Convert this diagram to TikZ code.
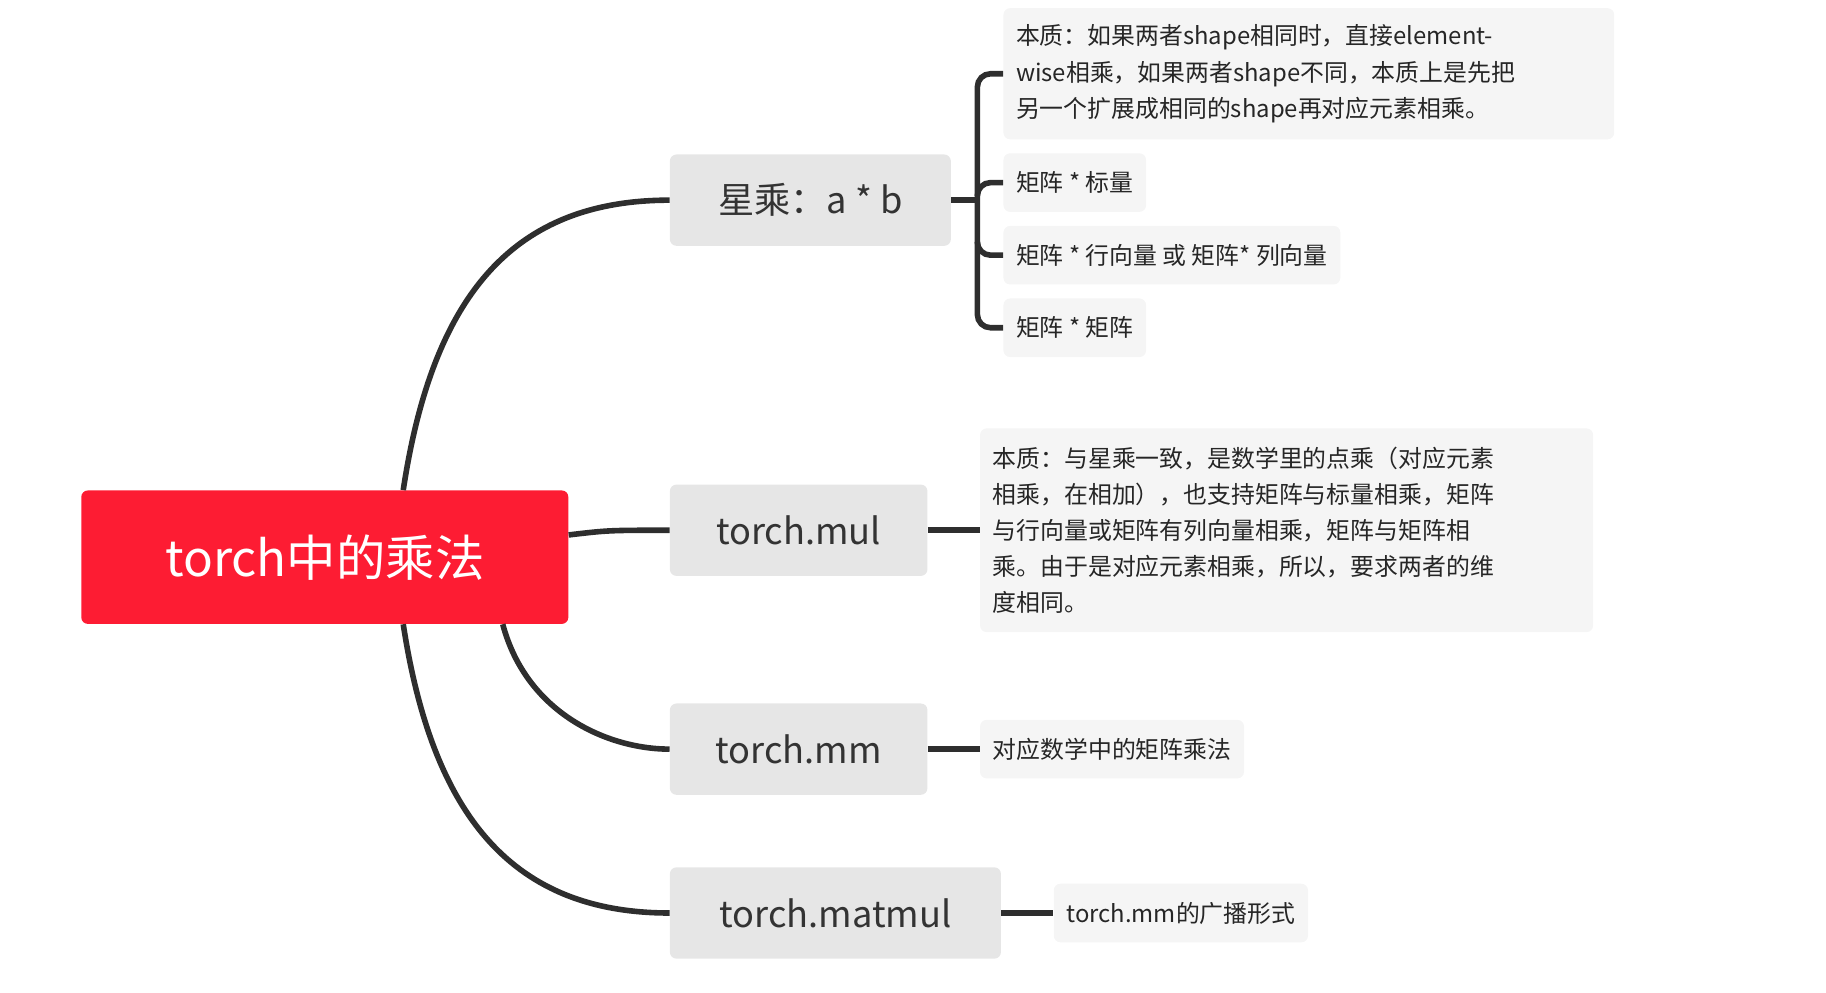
\documentclass[tikz,border=0pt]{standalone}
\usepackage{fontspec}
\usetikzlibrary{calc}
\setmainfont{Noto Sans CJK SC}
\definecolor{rootred}{HTML}{FD1C33}
\definecolor{topicgray}{HTML}{E6E6E6}
\definecolor{leafgray}{HTML}{F5F5F5}
\definecolor{linedark}{HTML}{2E2E2E}
\tikzset{
  rootbox/.style={fill=rootred, rounded corners=4pt, text=white, font=\fontsize{30}{34}\selectfont, minimum width=10.4cm, minimum height=2.85cm},
  topicbox/.style={fill=topicgray, rounded corners=4pt, text=black!80, font=\fontsize{22}{26}\selectfont, minimum height=1.95cm, anchor=west},
  leafbox/.style={fill=leafgray, rounded corners=4pt, text=black!85, font=\fontsize{14.5}{22}\selectfont, anchor=west, inner xsep=0.27cm, inner ysep=0.2cm, minimum height=1.25cm, align=left},
  conn/.style={draw=linedark, line width=3.4pt},
}
\begin{document}
\begin{tikzpicture}[x=0.025cm, y=-0.025cm]
\useasboundingbox (0,0) rectangle (1560,848);
\node (root) [rootbox] at (277.5,476) {torch中的乘法};
\node (star) [topicbox, minimum width=6cm] at (572,171) {星乘：a * b};
\node (mul) [topicbox, minimum width=5.5cm] at (572,453) {torch.mul};
\node (mm) [topicbox, minimum width=5.5cm] at (572,640) {torch.mm};
\node (matmul) [topicbox, minimum width=7.07cm] at (572,780) {torch.matmul};

\node (star_essence) [leafbox, text width=12.5cm, minimum height=2.8cm] at (857,63) {本质：如果两者shape相同时，直接element-\\wise相乘，如果两者shape不同，本质上是先把\\另一个扩展成相同的shape再对应元素相乘。};
\node (star_scalar) [leafbox] at (857,156) {矩阵 * 标量};
\node (star_vector) [leafbox] at (857,218) {矩阵 * 行向量 或 矩阵* 列向量};
\node (star_matrix) [leafbox] at (857,280) {矩阵 * 矩阵};
\node (mul_essence) [leafbox, text width=12.55cm, minimum height=4.35cm] at (837,453) {本质：与星乘一致，是数学里的点乘（对应元素\\相乘，在相加），也支持矩阵与标量相乘，矩阵\\与行向量或矩阵有列向量相乘，矩阵与矩阵相\\乘。由于是对应元素相乘，所以，要求两者的维\\度相同。};
\node (mm_note) [leafbox] at (837,640) {对应数学中的矩阵乘法};
\node (matmul_note) [leafbox] at (900,780) {torch.mm的广播形式};

% root to topics
\draw[conn] (root.north) ++(67,0) .. controls (370,250) and (440,171) .. (star.west);
\draw[conn] (root.east |- 0,457) .. controls (520,453) .. (mul.west);
\draw[conn] (root.south) ++(152,0) .. controls (450,610) and (520,640) .. (mm.west);
\draw[conn] (root.south) ++(67,0) .. controls (370,700) and (440,780) .. (matmul.west);

% topics to leaves
\draw[conn] (star.east) -- ++(22,0);
\draw[conn, rounded corners=8pt] (star_essence.west) -- ++(-22,0) -- ($(star_matrix.west)+(-22,0)$) -- (star_matrix.west);
\draw[conn, rounded corners=8pt] (star_scalar.west) -- ++(-22,0) -- ++(0,10);
\draw[conn, rounded corners=8pt] (star_vector.west) -- ++(-22,0) -- ++(0,-10);
\draw[conn] (mul.east) -- (mul_essence.west);
\draw[conn] (mm.east) -- (mm_note.west);
\draw[conn] (matmul.east) -- (matmul_note.west);
\end{tikzpicture}
\end{document}
